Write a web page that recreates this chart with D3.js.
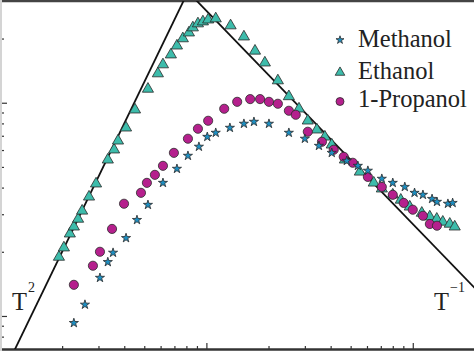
<!DOCTYPE html>
<html>
<head>
<meta charset="utf-8">
<script src="https://cdn.jsdelivr.net/npm/d3@7"></script>
<style>
  body { margin: 0; background: #fff; }
  svg { display: block; }
  text { font-family: "Liberation Serif", "Times New Roman", "DejaVu Serif", serif; }
</style>
</head>
<body>
<script>
const width = 474
const height = 351

// data (x: temperature-like, y: log quantity)
const methanolX = [2.28, 2.58, 3.05, 3.33, 3.53, 4.08, 4.61, 5.21, 6.16, 7.20, 8.14, 9.20, 10.1, 11.1, 13.0, 15.2, 17.0, 20.1, 25.1, 30.0, 35.1, 40.5, 47.9, 54.2, 60.6, 70.8, 80.0, 91.5, 102, 112, 124, 131, 148, 156]
const methanolY = [0.0927, 0.113, 0.151, 0.179, 0.198, 0.232, 0.282, 0.332, 0.421, 0.490, 0.564, 0.622, 0.692, 0.723, 0.763, 0.797, 0.814, 0.797, 0.723, 0.678, 0.628, 0.582, 0.534, 0.506, 0.480, 0.440, 0.421, 0.403, 0.378, 0.370, 0.354, 0.343, 0.336, 0.339]

const ethanolX = [1.93, 2.04, 2.18, 2.28, 2.39, 2.50, 2.70, 2.92, 3.33, 3.57, 3.73, 4.08, 4.51, 5.21, 5.82, 6.16, 6.73, 7.20, 7.69, 8.23, 8.60, 9.10, 9.62, 10.2, 11.1, 13.1, 15.2, 17.2, 19.2, 22.2, 25.1, 28.1, 31.0, 34.3, 37.5, 40.5, 46.9, 55.4, 64.7, 70.8, 80.0, 87.5, 96.7, 110.6, 120.9, 130.7, 139.8, 151.1, 159.7]
const ethanolY = [0.189, 0.209, 0.243, 0.262, 0.285, 0.311, 0.362, 0.417, 0.540, 0.602, 0.663, 0.763, 0.927, 1.16, 1.37, 1.51, 1.68, 1.85, 2.00, 2.13, 2.25, 2.35, 2.40, 2.45, 2.48, 2.30, 2.04, 1.75, 1.54, 1.27, 1.07, 0.937, 0.823, 0.747, 0.692, 0.635, 0.540, 0.474, 0.421, 0.395, 0.370, 0.350, 0.325, 0.304, 0.292, 0.285, 0.276, 0.270, 0.262]

const propanolX = [2.28, 2.82, 3.05, 3.49, 3.99, 4.82, 5.15, 5.63, 6.16, 6.96, 8.14, 9.10, 10.2, 12.2, 14.1, 16.3, 18.2, 20.1, 22.2, 25.1, 27.1, 31.0, 36.3, 41.4, 46.3, 51.2, 60.6, 70.8, 80.0, 90.4, 100, 112, 121, 131]
const propanolY = [0.140, 0.172, 0.200, 0.256, 0.336, 0.378, 0.421, 0.459, 0.506, 0.582, 0.678, 0.755, 0.823, 0.937, 1.01, 1.04, 1.04, 1.01, 0.989, 0.917, 0.878, 0.731, 0.656, 0.602, 0.558, 0.523, 0.449, 0.403, 0.370, 0.339, 0.315, 0.295, 0.270, 0.265]

// guide lines: y = a * x^2 and y = b / x
const lineX = [1, 200]
const t2Coef = 0.05
const tm1Coef = 27

const xMajor = [10, 100]
const xMinor = [2, 3, 4, 5, 6, 7, 8, 9, 20, 30, 40, 50, 60, 70, 80, 90]
const yMajor = [0.1, 1]
const yMinor = [0.08, 0.09, 0.2, 0.3, 0.4, 0.5, 0.6, 0.7, 0.8, 0.9, 2]

const legendNames = ['Methanol', 'Ethanol', '1-Propanol']

const svg = d3.select('body')
  .append('svg')
  .attr('width', width)
  .attr('height', height)

const x = d3.scaleLog().domain([1, 198]).range([0, width])
const y = d3.scaleLog().domain([0.07, 3.0]).range([349, 1])

svg.append('defs').append('clipPath')
  .attr('id', 'plot-clip')
  .append('rect')
  .attr('x', 0).attr('y', 1)
  .attr('width', width).attr('height', 348)

// axes (ticks pointing inward, no labels)
const tickColor = '#333'
const addAxis = (axis, transform) => {
  const g = svg.append('g').attr('transform', transform).call(axis)
  g.select('.domain').remove()
  g.selectAll('.tick line').attr('stroke', tickColor).attr('stroke-width', 1.2)
  g.selectAll('.tick text').remove()
}
addAxis(d3.axisTop(x).tickValues(xMajor).tickSize(6).tickFormat(''), 'translate(0, 349)')
addAxis(d3.axisTop(x).tickValues(xMinor).tickSize(3).tickFormat(''), 'translate(0, 349)')
addAxis(d3.axisRight(y).tickValues(yMajor).tickSize(7).tickFormat(''), 'translate(0, 0)')
addAxis(d3.axisRight(y).tickValues(yMinor).tickSize(4).tickFormat(''), 'translate(0, 0)')

// frame
svg.append('line').attr('x1', 0).attr('x2', width).attr('y1', 1).attr('y2', 1)
  .attr('stroke', '#444').attr('stroke-width', 2.5)
svg.append('line').attr('x1', 0).attr('x2', width).attr('y1', 349.5).attr('y2', 349.5)
  .attr('stroke', '#333').attr('stroke-width', 2.5)
svg.append('line').attr('x1', 1).attr('x2', 1).attr('y1', 0).attr('y2', height)
  .attr('stroke', '#d4d4d4').attr('stroke-width', 2)

// power-law guide lines
const guide = d3.line().x((d) => x(d[0])).y((d) => y(d[1]))
const guides = svg.append('g').attr('clip-path', 'url(#plot-clip)')
guides.append('path')
  .datum(lineX.map((v) => [v, t2Coef * v * v]))
  .attr('d', guide)
  .attr('fill', 'none').attr('stroke', '#111').attr('stroke-width', 1.8)
guides.append('path')
  .datum(lineX.map((v) => [v, tm1Coef / v]))
  .attr('d', guide)
  .attr('fill', 'none').attr('stroke', '#111').attr('stroke-width', 1.8)

// series
const series = [
  {xs: ethanolX, ys: ethanolY, type: d3.symbolTriangle, size: 54, fill: '#3dbcab'},
  {xs: propanolX, ys: propanolY, type: d3.symbolCircle, size: 66, fill: '#b5208d'},
  {xs: methanolX, ys: methanolY, type: d3.symbolStar, size: 26, fill: '#1d8fc2'}
]

const points = svg.append('g').attr('clip-path', 'url(#plot-clip)')
series.forEach((s) => {
  points.append('g')
    .selectAll('path')
    .data(s.xs.map((v, i) => [v, s.ys[i]]))
    .enter()
    .append('path')
    .attr('transform', (d) => `translate(${x(d[0])}, ${y(d[1])})`)
    .attr('d', d3.symbol().type(s.type).size(s.size))
    .attr('fill', s.fill)
    .attr('stroke', '#2a2a2a')
    .attr('stroke-width', 0.8)
})

// legend
const legendItems = [
  {type: d3.symbolStar, size: 20, fill: '#1d8fc2', my: 40, ty: 46.5},
  {type: d3.symbolTriangle, size: 40, fill: '#3dbcab', my: 72.5, ty: 79},
  {type: d3.symbolCircle, size: 50, fill: '#b5208d', my: 101.5, ty: 106.5}
]
const legend = svg.append('g')
legendItems.forEach((d, i) => {
  legend.append('path')
    .attr('transform', `translate(340, ${d.my})`)
    .attr('d', d3.symbol().type(d.type).size(d.size))
    .attr('fill', d.fill)
    .attr('stroke', '#2a2a2a')
    .attr('stroke-width', 0.8)
  legend.append('text')
    .attr('x', 358)
    .attr('y', d.ty)
    .attr('font-size', 24.5)
    .attr('fill', '#222')
    .text(legendNames[i])
})

// power-law labels
const label = (tx, sx, sup) => {
  svg.append('text').attr('x', tx).attr('y', 310)
    .attr('font-size', 24.5).attr('fill', '#222')
    .text('T')
  svg.append('text').attr('x', sx).attr('y', 292)
    .attr('font-size', 14).attr('fill', '#222')
    .text(sup)
}
label(12, 28, '2')
label(434, 450, '\u22121')
</script>
</body>
</html>
